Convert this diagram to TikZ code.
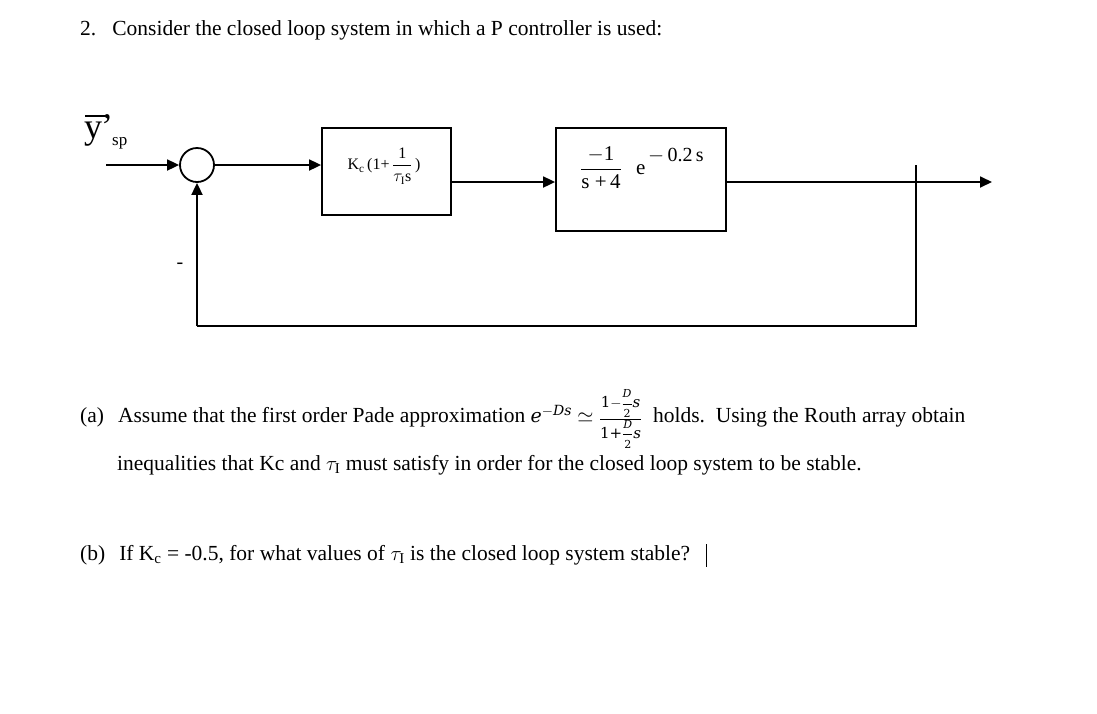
\documentclass[tikz,border=0pt]{standalone}
\usepackage{fontspec}
\setmainfont{Liberation Serif}
\newfontfamily\cambria{DejaVu Serif}
\usetikzlibrary{arrows.meta}
\begin{document}
\begin{tikzpicture}[x=1pt,y=-1pt,
  ln/.style={line width=1.8pt},
  ar/.style={ln,-{Triangle[length=12pt,width=11pt]}},
  txt/.style={anchor=west,inner sep=0,font=\fontsize{21.5}{24}\selectfont}]
\useasboundingbox (0,0) rectangle (1097,713);
\node[txt] (t0) at (80,30) {2.\hspace{16pt}Consider the closed loop system in which a P controller is used:};
\node[inner sep=0,anchor=west,font=\fontsize{36}{36}\selectfont] (y) at (84,130) {y\kern-1pt'};
\draw[line width=1.2pt] ([xshift=1pt,yshift=-2pt]y.north west) -- ([xshift=-8pt,yshift=-2pt]y.north east);
\node[inner sep=0,anchor=west,font=\fontsize{17}{17}\selectfont] (sp) at (112,143) {sp};
\coordinate (in) at (106,165);
\node[draw,circle,line width=1.8pt,minimum size=34pt,inner sep=0] (sum) at (197,165) {};
\node[draw,line width=1.8pt,minimum width=129pt,minimum height=87pt,inner sep=0] (b1) at (386.5,171.5) {};
\node[inner sep=0,font=\fontsize{16}{16}\selectfont] (b1t) at (384,166) {K$_{\mathrm c}$\,(1+\,$\displaystyle\frac{\mbox{1}}{\mbox{$\tau_{\mathrm I}$s}}$\,)};
\node[draw,line width=1.8pt,minimum width=170pt,minimum height=103pt,inner sep=0] (b2) at (641,179.5) {};
\node[inner sep=0,font=\fontsize{21}{22}\selectfont] (b2t) at (601,168) {$\displaystyle\frac{\mbox{$-$1}}{\mbox{s\ +\,4}}$};
\node[inner sep=0,anchor=west,font=\fontsize{21}{22}\selectfont] (b2e) at (636,170) {e};
\node[inner sep=0,anchor=west,font=\fontsize{20}{22}\selectfont] (b2x) at (648,156) {$-$\,0.2\,s};
\coordinate (o1) at (451,182);
\coordinate (o2) at (726,182);
\coordinate (out) at (992,182);
\coordinate (brtop) at (916,165);
\coordinate (c1) at (916,326);
\coordinate (c2) at (197,326);
\draw[ar] (in) -- (sum.west);
\draw[ar] (sum.east) -- (b1.west|-sum.east);
\draw[ar] (o1) -- (b2.west|-o1);
\draw[ar] (o2) -- (out);
\draw[ln] (brtop) -- (c1) -- (c2);
\draw[ar] (c2) -- (sum.south);
\node[inner sep=0,font=\fontsize{20}{20}\selectfont] (minus) at (180,266) {-};
\node[txt] (ta) at (80,419) {(a)\hspace{14pt}Assume that the first order Pade approximation {\cambria\itshape\fontsize{19}{19}\selectfont e}$^{\mbox{\cambria\itshape\fontsize{14}{14}\selectfont $-$Ds}}$ $\simeq$ {\cambria\fontsize{15}{15}\selectfont$\displaystyle\frac{\mbox{1$-\displaystyle\frac{\mbox{\fontsize{11}{11}\selectfont\itshape D}}{\mbox{\fontsize{11}{11}\selectfont 2}}$\itshape s}}{\mbox{1+$\displaystyle\frac{\mbox{\fontsize{11}{11}\selectfont\itshape D}}{\mbox{\fontsize{11}{11}\selectfont 2}}$\itshape s}}$} \ holds.\ \ Using the Routh array obtain};
\node[txt] (ta2) at (117,465) {inequalities that Kc and $\tau_{\mathrm I}$ must satisfy in order for the closed loop system to be stable.};
\node[txt] (tb) at (80,555) {(b)\hspace{14pt}If K$_{\mathrm c}$ = -0.5, for what values of $\tau_{\mathrm I}$ is the closed loop system stable?};
\coordinate (cur1) at (706,544);
\coordinate (cur2) at (706,567);
\draw[line width=0.8pt] (cur1) -- (cur2);
\end{tikzpicture}
\end{document}
